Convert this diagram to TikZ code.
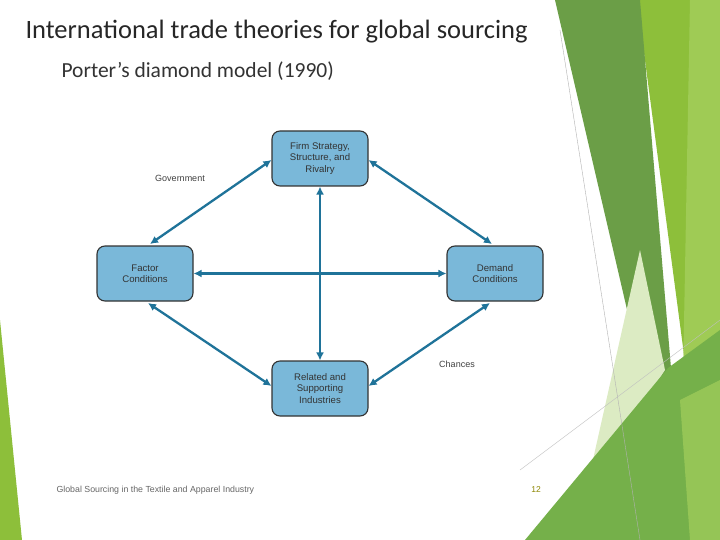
\documentclass[tikz,border=0pt]{standalone}
\usepackage{fontspec}
\setmainfont{Carlito}
\newfontfamily\diag{Liberation Sans}
\usetikzlibrary{arrows.meta}
\definecolor{boxc}{HTML}{7AB8D9}
\definecolor{linec}{HTML}{1F7399}
\definecolor{decA}{HTML}{6B9E47}
\definecolor{decB}{HTML}{8DBF3A}
\definecolor{decC}{HTML}{A4CF5C}
\definecolor{decD}{HTML}{DCEBC3}
\definecolor{decE}{HTML}{75B04A}
\begin{document}
\begin{tikzpicture}[x=1pt,y=-1pt,
  box/.style={draw=black!80,line width=1.1pt,fill=boxc,rounded corners=8pt,minimum width=96pt,minimum height=55pt,align=center,font=\diag\fontsize{9.6}{11.5}\selectfont,text=black!80},
  conn/.style={draw=linec,line width=2.3pt,{Latex[length=8pt,width=8pt]}-{Latex[length=8pt,width=8pt]}},
  lbl/.style={font=\diag\fontsize{9}{10}\selectfont,text=black!75}]
\useasboundingbox (0,0) rectangle (720,540);
\fill[white] (0,0) rectangle (720,540);
% decorations
\fill[decB] (637,0)--(720,0)--(720,540)--(665,540)--(690,400)--cycle;
\fill[decA] (555,0)--(640,0)--(672,380)--(662,460)--cycle;
\fill[decC,opacity=0.8] (690,0)--(720,0)--(720,540)--(680,540)--cycle;
\fill[decD] (640,250)--(665,370)--(600,470)--(560,540)--(575,540)--cycle;
\fill[decE] (525,540)--(668,368)--(720,330)--(720,540)--cycle;
\fill[decC,opacity=0.7] (680,400)--(720,380)--(720,540)--(690,540)--cycle;
\fill[decB] (0,320)--(22,540)--(0,540)--cycle;
\draw[gray!60,line width=0.4pt] (560,30)--(640,540);
\draw[gray!50,line width=0.4pt] (520,470)--(720,320);
% title
\node[anchor=west,font=\fontsize{26.5}{28}\selectfont,text=black!85] (t) at (22,32) {International trade theories for global sourcing};
\node[anchor=west,font=\fontsize{21.5}{23}\selectfont,text=black!80] (st) at (58,71) {Porter’s diamond model (1990)};
% boxes
\node[box] (firm) at (320,158.5) {Firm Strategy,\\Structure, and\\Rivalry};
\node[box] (fac) at (145,273.5) {Factor\\Conditions};
\node[box] (dem) at (495,273.5) {Demand\\Conditions};
\node[box] (rel) at (320,388.5) {Related and\\Supporting\\Industries};
\draw[conn] (firm.west|-0,160) -- (150,244);
\draw[conn] (firm.east|-0,160) -- (492,244);
\draw[conn] (rel.west|-0,386) -- (148,303);
\draw[conn] (490,303) -- (rel.east|-0,386);
\draw[conn] (firm.south) -- (rel.north);
\draw[conn] (fac.east) -- (dem.west);
\node[lbl] (gov) at (180,178) {Government};
\node[lbl] (ch) at (457,364) {Chances};
% footer
\node[anchor=west,font=\diag\fontsize{8.8}{10}\selectfont,text=black!60] (foot) at (53,490) {Global Sourcing in the Textile and Apparel Industry};
\node[font=\diag\fontsize{8.5}{10}\selectfont,text=olive] (pg) at (536,490) {12};
\end{tikzpicture}
\end{document}
